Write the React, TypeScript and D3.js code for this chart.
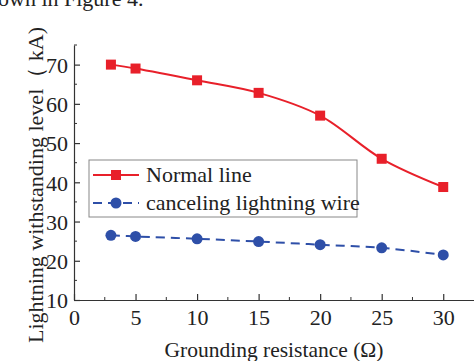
import * as d3 from "d3";
import { useEffect, useRef } from "react";

const resistance = [3, 5, 10, 15, 20, 25, 30];
const normalLine = [70, 69, 66, 62.8, 57, 46, 38.8];
const cancelingWire = [26.5, 26.2, 25.6, 24.9, 24.1, 23.3, 21.5];
const xTicks = [0, 5, 10, 15, 20, 25, 30];
const yTicks = [10, 20, 30, 40, 50, 60, 70];

const App: React.FC = () => {
  const svgRef = useRef<SVGSVGElement>(null);

  useEffect(() => {
    const svg = d3.select(svgRef.current);
    svg.selectAll("*").remove();
    const width = 474;
    const height = 361;
    const margin = { top: 45, right: 0, bottom: 61, left: 74 };
    const font = "'Liberation Serif', 'Times New Roman', serif";

    const xScale = d3.scaleLinear()
      .domain([0, 32.5])
      .range([margin.left, width - margin.right]);

    const yScale = d3.scaleLinear()
      .domain([10, 75])
      .range([height - margin.bottom, margin.top]);

    // caption text cut off at the top
    svg.append("text")
      .attr("x", -2)
      .attr("y", 6)
      .attr("font-family", font)
      .attr("font-size", 22)
      .attr("fill", "#222")
      .text("own in Figure 4.");

    // minor ticks
    const g = svg.append("g").attr("stroke", "#333").attr("stroke-width", 1);
    d3.range(2.5, 32.5, 5).forEach((v) => {
      g.append("line")
        .attr("x1", xScale(v)).attr("x2", xScale(v))
        .attr("y1", yScale(10)).attr("y2", yScale(10) - 3);
    });
    d3.range(15, 76, 10).forEach((v) => {
      g.append("line")
        .attr("x1", xScale(0)).attr("x2", xScale(0) + 3)
        .attr("y1", yScale(v)).attr("y2", yScale(v));
    });

    const xAxis = svg.append("g")
      .attr("transform", `translate(0, ${yScale(10)})`)
      .call(d3.axisBottom(xScale).tickValues(xTicks).tickSizeInner(-6).tickSizeOuter(0).tickPadding(9));
    xAxis.attr("font-family", font).attr("font-size", 22);
    xAxis.selectAll("text").style("font-family", font).style("font-size", "22px").attr("fill", "#222");

    const yAxis = svg.append("g")
      .attr("transform", `translate(${xScale(0)}, 0)`)
      .call(d3.axisLeft(yScale).tickValues(yTicks).tickSizeInner(-6).tickSizeOuter(0).tickPadding(6));
    yAxis.attr("font-family", font).attr("font-size", 22);
    yAxis.selectAll("text").style("font-family", font).style("font-size", "22px").attr("fill", "#222").attr("dy", "0.35em");
    svg.selectAll(".domain, .tick line").attr("stroke", "#333").attr("stroke-width", 1.2);

    // axis titles
    svg.append("text")
      .attr("x", (xScale(0) + width) / 2)
      .attr("y", 357)
      .attr("text-anchor", "middle")
      .attr("font-family", font)
      .attr("font-size", 21.5)
      .attr("fill", "#222")
      .text("Grounding resistance (Ω)");

    svg.append("text")
      .attr("transform", `translate(43, 185) rotate(-90)`)
      .attr("text-anchor", "middle")
      .attr("font-family", font)
      .attr("font-size", 22)
      .attr("fill", "#222")
      .text("Lightning withstanding level\uFF08 kA)");

    const red = "#e8202a";
    const blue = "#2e4fa8";
    const pts1 = resistance.map((r, i) => [r, normalLine[i]] as [number, number]);
    const pts2 = resistance.map((r, i) => [r, cancelingWire[i]] as [number, number]);

    //line generators
    const smooth = d3.line<[number, number]>()
      .x((d) => xScale(d[0]))
      .y((d) => yScale(d[1]))
      .curve(d3.curveCatmullRom.alpha(0.5));

    svg.append("path")
      .datum(pts1)
      .attr("fill", "none")
      .attr("stroke", red)
      .attr("stroke-width", 2)
      .attr("d", smooth);

    svg.append("path")
      .datum(pts2)
      .attr("fill", "none")
      .attr("stroke", blue)
      .attr("stroke-width", 2)
      .attr("stroke-dasharray", "9,6")
      .attr("d", smooth);

    svg.selectAll(".sq")
      .data(pts1)
      .join("rect")
      .attr("x", (d) => xScale(d[0]) - 5)
      .attr("y", (d) => yScale(d[1]) - 5)
      .attr("width", 10)
      .attr("height", 10)
      .attr("fill", red);

    svg.selectAll(".dot")
      .data(pts2)
      .join("circle")
      .attr("cx", (d) => xScale(d[0]))
      .attr("cy", (d) => yScale(d[1]))
      .attr("r", 5.5)
      .attr("fill", blue);

    // legend
    const lg = svg.append("g").attr("transform", "translate(89, 160)");
    lg.append("rect")
      .attr("width", 268).attr("height", 57)
      .attr("fill", "white").attr("stroke", "#888").attr("stroke-width", 1);
    lg.append("line").attr("x1", 4).attr("x2", 50).attr("y1", 15).attr("y2", 15)
      .attr("stroke", red).attr("stroke-width", 2);
    lg.append("rect").attr("x", 22).attr("y", 10).attr("width", 10).attr("height", 10).attr("fill", red);
    lg.append("line").attr("x1", 4).attr("x2", 50).attr("y1", 43).attr("y2", 43)
      .attr("stroke", blue).attr("stroke-width", 2).attr("stroke-dasharray", "9,6");
    lg.append("circle").attr("cx", 27).attr("cy", 43).attr("r", 5.5).attr("fill", blue);
    lg.append("text").attr("x", 57).attr("y", 22)
      .attr("font-family", font).attr("font-size", 22).attr("fill", "#222").text("Normal line");
    lg.append("text").attr("x", 57).attr("y", 50)
      .attr("font-family", font).attr("font-size", 22).attr("fill", "#222").text("canceling lightning wire");
  }, []);

  return (
    <svg ref={svgRef} width={474} height={361}
      style={{ position: "absolute", left: 0, top: 0, background: "white" }} />
  );
};
export default App;
